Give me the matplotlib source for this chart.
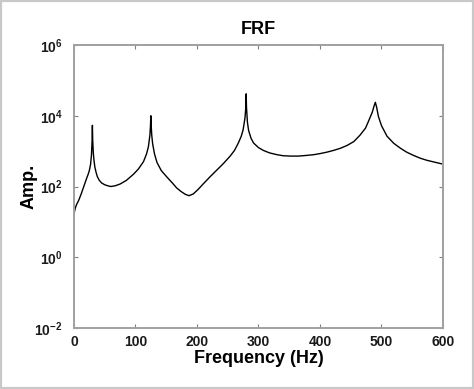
import matplotlib
matplotlib.use('Agg')
import matplotlib.pyplot as plt
from matplotlib.patches import Rectangle

plt.rcParams['font.family'] = 'Liberation Sans'
plt.rcParams['mathtext.fontset'] = 'custom'
plt.rcParams['mathtext.bf'] = 'Liberation Sans:bold'
plt.rcParams['mathtext.rm'] = 'Liberation Sans'

# frequency (Hz) and log10 amplitude
freq = [0, 1, 2, 4, 6, 8, 10, 12, 15, 18, 21, 23, 25, 27, 28.5, 29.5, 30, 30.5, 31.5, 32.5, 34,
        36, 38, 41, 45, 50, 55, 60, 67, 75, 85, 97, 105, 113, 118, 121, 123.5, 124.5, 125, 125.5,
        126.5, 128, 131, 135, 142, 151, 160, 167, 174, 181, 187, 194, 202, 210, 221, 232, 243,
        254, 261, 267, 272, 275, 278, 279.5, 280, 280.5, 282, 284, 288, 292, 300, 308, 318, 330,
        340, 352, 365, 379, 390, 400, 411, 422, 433, 444, 455, 465, 474, 479, 485, 488, 490, 492,
        495, 500, 509, 520, 531, 541, 552, 563, 574, 586, 598]
log_amp = [1.2, 1.3, 1.38, 1.48, 1.55, 1.62, 1.71, 1.8, 1.95, 2.1, 2.25, 2.34, 2.45, 2.62, 2.9,
           3.3, 3.73, 3.3, 2.95, 2.75, 2.55, 2.4, 2.28, 2.18, 2.1, 2.05, 2.02, 2.0, 2.02, 2.07,
           2.17, 2.35, 2.5, 2.7, 2.92, 3.12, 3.45, 3.75, 4.0, 3.75, 3.45, 3.2, 2.92, 2.68, 2.45,
           2.27, 2.1, 1.96, 1.86, 1.78, 1.74, 1.79, 1.92, 2.07, 2.27, 2.46, 2.65, 2.86, 3.02, 3.22,
           3.42, 3.6, 3.93, 4.25, 4.62, 4.25, 3.82, 3.58, 3.36, 3.23, 3.1, 3.02, 2.95, 2.9, 2.87,
           2.86, 2.86, 2.88, 2.9, 2.93, 2.97, 3.02, 3.08, 3.16, 3.27, 3.45, 3.65, 3.85, 4.1, 4.28,
           4.38, 4.25, 3.98, 3.72, 3.42, 3.22, 3.08, 2.97, 2.88, 2.8, 2.74, 2.69, 2.64]

amp = [10 ** v for v in log_amp]

fig = plt.figure(figsize=(4.74, 3.89), dpi=100)
ax = fig.add_axes([0.156, 0.1568, 0.7786, 0.7275])

ax.plot(freq, amp, color='black', lw=1.0)
ax.set_yscale('log')
ax.set_xlim(0, 600)
ax.set_ylim(1e-2, 1e6)

ax.set_xticks([0, 100, 200, 300, 400, 500, 600])
ax.set_xticklabels(['0', '100', '200', '300', '400', '500', '600'], fontweight='bold', fontsize=10)
yt = [1e-2, 1e0, 1e2, 1e4, 1e6]
ax.set_yticks(yt)
ax.set_yticklabels([r'$\mathbf{10^{-2}}$', r'$\mathbf{10^{0}}$', r'$\mathbf{10^{2}}$',
                    r'$\mathbf{10^{4}}$', r'$\mathbf{10^{6}}$'], fontsize=10)
ax.yaxis.set_minor_locator(matplotlib.ticker.NullLocator())
ax.tick_params(direction='in', length=3, width=0.8, color='#808080', top=True, right=True,
               labelcolor='#1a1a1a')
ax.tick_params(axis='y', pad=8)
ax.tick_params(axis='x', pad=5)

for s in ax.spines.values():
    s.set_color('#a0a0a0')
    s.set_linewidth(1.4)

ax.set_title('FRF', fontweight='bold', fontsize=13, pad=8)
ax.set_xlabel('Frequency (Hz)', fontweight='bold', fontsize=13, labelpad=1)
ax.set_ylabel('Amp.', fontweight='bold', fontsize=13, labelpad=-2)

fig.patches.append(Rectangle((0, 0), 1, 1, transform=fig.transFigure, fill=False,
                             edgecolor='#c8c8c8', lw=3))

fig.savefig('out.png', dpi=100)
